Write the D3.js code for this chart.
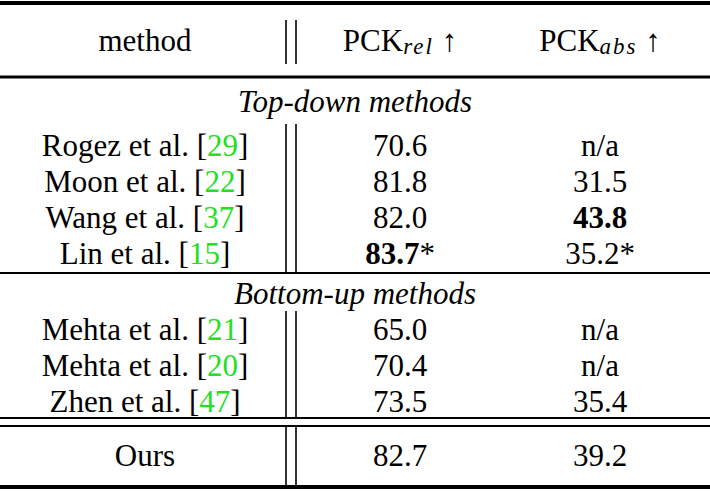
<!DOCTYPE html>
<html><head><meta charset="utf-8">
<script src="https://cdn.jsdelivr.net/npm/d3@7.9.0/dist/d3.min.js"></script>
<style>body{margin:0;background:#fff}</style>
</head><body><svg width="710" height="491" font-family="'Liberation Serif', 'Times New Roman', Times, 'DejaVu Serif', serif"></svg>
<script>
// table data
const topNames = ['Rogez et al.', 'Moon et al.', 'Wang et al.', 'Lin et al.'];
const topRefs = ['29', '22', '37', '15'];
const topRel = ['70.6', '81.8', '82.0', '83.7'];
const topAbs = ['n/a', '31.5', '43.8', '35.2'];
const botNames = ['Mehta et al.', 'Mehta et al.', 'Zhen et al.'];
const botRefs = ['21', '20', '47'];
const botRel = ['65.0', '70.4', '73.5'];
const botAbs = ['n/a', 'n/a', '35.4'];
const oursRel = '82.7', oursAbs = '39.2';

const svg = d3.select('svg');
const fs = 31;
const xMethod = 145, xRel = 400, xAbs = 600, vx1 = 286, vx2 = 296;

function hline(y, w) {
  svg.append('line').attr('x1', 0).attr('x2', 710).attr('y1', y).attr('y2', y)
    .attr('stroke', '#000').attr('stroke-width', w);
}
function vlines(y1, y2) {
  [vx1, vx2].forEach(x => svg.append('line').attr('x1', x).attr('x2', x)
    .attr('y1', y1).attr('y2', y2).attr('stroke', '#000').attr('stroke-width', 1.6));
}
function newText(x, y) {
  return svg.append('text').attr('x', x).attr('y', y).attr('text-anchor', 'middle')
    .attr('font-size', fs).attr('dominant-baseline', 'central').attr('fill', '#000');
}
function cell(x, y, txt, italic) {
  const t = newText(x, y).text(txt);
  if (italic) t.attr('font-style', 'italic');
  return t;
}
function methodCell(y, name, ref) {
  const t = newText(xMethod, y);
  t.append('tspan').text(name + ' [');
  t.append('tspan').attr('fill', '#22e022').text(ref);
  t.append('tspan').text(']');
}
function valCell(x, y, v, bold, star) {
  const t = newText(x, y);
  t.append('tspan').attr('font-weight', bold ? 'bold' : 'normal').text(v);
  if (star) t.append('tspan').text('*');
}

// header
hline(3, 4);
const hy = 40;
cell(xMethod, hy, 'method');
[[xRel, 'rel'], [xAbs, 'abs']].forEach(([x, sub]) => {
  const t = newText(x, hy);
  t.append('tspan').text('PCK');
  t.append('tspan').attr('font-style', 'italic').attr('font-size', 23).attr('dy', 6)
    .attr('letter-spacing', 2).text(sub);
  t.append('tspan').attr('dy', -6).text(' \u2191');
});
vlines(20, 64);
hline(77, 3);

// top-down
cell(355, 101, 'Top-down methods', true);
const y0 = 145, dy = 36;
topNames.forEach((n, i) => {
  const y = y0 + i * dy;
  methodCell(y, n, topRefs[i]);
  valCell(xRel, y, topRel[i], i === 3, i === 3);
  valCell(xAbs, y, topAbs[i], i === 2, i === 3);
});
vlines(124, 273);
hline(273, 2);

// bottom-up
cell(355, 293, 'Bottom-up methods', true);
const y1 = 329;
botNames.forEach((n, i) => {
  const y = y1 + i * dy;
  methodCell(y, n, botRefs[i]);
  valCell(xRel, y, botRel[i]);
  valCell(xAbs, y, botAbs[i]);
});
vlines(311, 418);
hline(418, 2);
hline(426, 2);
vlines(426, 486);
cell(xMethod, 455, 'Ours');
valCell(xRel, 455, oursRel);
valCell(xAbs, 455, oursAbs);
hline(487, 4);
</script></body></html>
